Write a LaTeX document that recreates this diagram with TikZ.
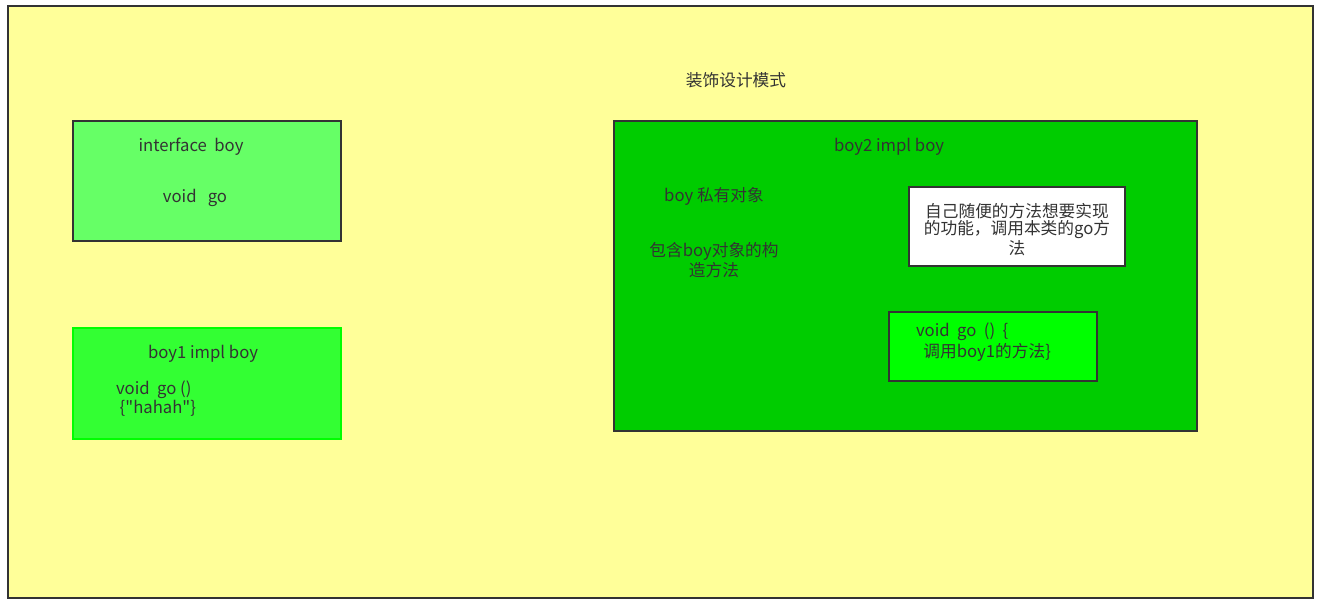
\documentclass[tikz,border=0pt]{standalone}
\usepackage{fontspec}
\setmainfont{Noto Sans CJK SC}[Ligatures=TeXOff]
\usetikzlibrary{calc}
\definecolor{paper}{HTML}{FFFF99}
\definecolor{ifacegreen}{HTML}{66FF66}
\definecolor{boyonegreen}{HTML}{33FF33}
\definecolor{boytwogreen}{HTML}{00CC00}
\definecolor{gogreen}{HTML}{00FF00}
\definecolor{ink}{HTML}{333333}
\tikzset{%
  x=0.02cm, y=-0.02cm, % one unit = one pixel of the sketch
  box/.style={draw=ink, line width=1.1pt},%
  label text/.style={text=ink, inner sep=0pt, outer sep=0pt, yshift=-1pt,
    font=\fontsize{9.5}{9.6}\selectfont},%
  block text/.style={label text, align=center},%
  left text/.style={label text, align=left, anchor=west}%
}
\begin{document}
\begin{tikzpicture}

%% page and frame

\useasboundingbox (0,0) rectangle (1320,601);
\fill[white] (0,0) rectangle (1320,601);
\draw[box, fill=paper] (8,6) rectangle (1313,598);
\node[label text] (title) at (736,78) {装饰设计模式};

%% interface

\draw[box, fill=ifacegreen] (73,121) rectangle (341,241);
\node[label text] (iface) at (191,145) {interface\ \ boy};
\node[label text] (ifacego) at (195,196) {void\ \ \ go};

%% first implementation

\draw[box, draw=gogreen, fill=boyonegreen] (73,328) rectangle (341,439);
\node[label text] (boyone) at (203,352) {boy1 impl boy};
\node[left text] (boyonego) at (116,397) {void\ \ go ()\\\ \{"hahah"\}};

%% decorator

\draw[box, fill=boytwogreen] (614,121) rectangle (1197,431);
\node[label text] (boytwo) at (889,145) {boy2 impl boy};
\node[label text] (field) at (714,195) {boy 私有对象};
\node[block text] (ctor) at (714,258) {包含boy对象的构\\造方法};

\draw[box, fill=white] (909,187) rectangle (1125,266);
\node[block text] (own) at (1017,228)
  {自己随便的方法想要实现\\的功能，调用本类的go方\\法};

\draw[box, fill=gogreen] (889,312) rectangle (1097,381);
\node[left text] (boytwogo) at (916,340)
  {void\ \ go\ \ ()\ \ \{\\[0.5pt]\ \ 调用boy1的方法\}};

\end{tikzpicture}
\end{document}
